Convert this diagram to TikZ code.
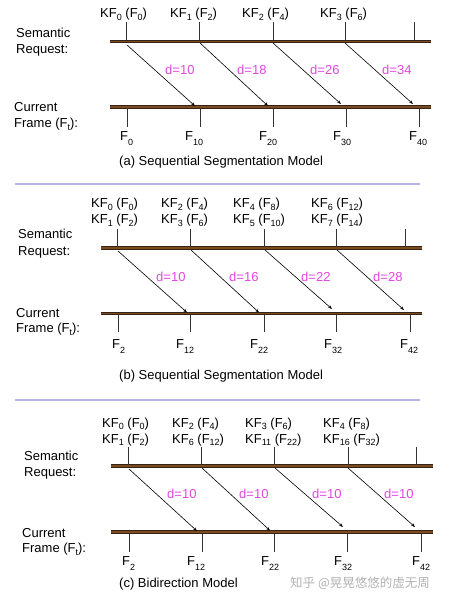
\documentclass[tikz,border=0pt]{standalone}
\usepackage{fontspec}
\setmainfont{Liberation Sans}
\newfontfamily\cjkfont{Noto Sans CJK SC}
\usetikzlibrary{arrows.meta}
\definecolor{bar}{RGB}{90,60,38}
\definecolor{barEdge}{RGB}{55,36,22}
\definecolor{dmag}{RGB}{226,70,226}
\definecolor{sep}{RGB}{182,180,228}
\newcommand\subx[1]{\raisebox{-2.6pt}{\fontsize{9}{9}\selectfont #1}}
\newcommand\subl[1]{\raisebox{-5.5pt}{\fontsize{9}{9}\selectfont #1}}
\tikzset{
  txt/.style={anchor=base west,inner sep=0pt,font=\fontsize{13}{16}\selectfont},
  kf/.style={txt,align=left},
  dlab/.style={txt,text=dmag},
  timeline/.style={draw=barEdge,line width=3.2pt},
  timeinner/.style={draw=bar!80!orange,line width=1.4pt},
  tick/.style={draw=black!80,line width=0.7pt},
  req/.style={draw=black,line width=0.6pt,-{Stealth[length=4pt,width=3pt]}},
  seprule/.style={draw=sep,line width=2pt},
}
\begin{document}
\begin{tikzpicture}[x=1pt,y=-1pt]
\useasboundingbox (0,0) rectangle (448,601);
% ================= panel (a)
\coordinate (aTL) at (110,41.7); \coordinate (aTR) at (431,41.7);
\coordinate (aBL) at (110,107); \coordinate (aBR) at (431,107);
\draw[timeline] (aTL) -- (aTR); \draw[timeinner] (aTL) -- (aTR);
\draw[timeline] (aBL) -- (aBR); \draw[timeinner] (aBL) -- (aBR);
\foreach \i/\x in {1/126,2/199,3/273,4/345,5/414}{
  \coordinate (aT\i) at (\x,40.2); \coordinate (aTt\i) at (\x,22);
  \draw[tick] (aTt\i) -- (aT\i);}
\foreach \i/\x in {1/127,2/200,3/273,4/346,5/419}{
  \coordinate (aB\i) at (\x,108.5); \coordinate (aBb\i) at (\x,127);
  \draw[tick] (aB\i) -- (aBb\i);}
\coordinate (aS1) at (127,45); \coordinate (aE1) at (195,106);
\coordinate (aS2) at (200,43); \coordinate (aE2) at (268,106);
\coordinate (aS3) at (273,43); \coordinate (aE3) at (341,104);
\coordinate (aS4) at (345,43); \coordinate (aE4) at (413,104);
\foreach \i in {1,...,4}{\draw[req] (aS\i) -- (aE\i);}
\node[kf] (akf1) at (100,18) {KF\subx{0} (F\subx{0})};
\node[kf] (akf2) at (170,18) {KF\subx{1} (F\subx{2})};
\node[kf] (akf3) at (242,18) {KF\subx{2} (F\subx{4})};
\node[kf] (akf4) at (320,18) {KF\subx{3} (F\subx{6})};
\node[dlab] (ad1) at (165,75) {d=10};
\node[dlab] (ad2) at (237,75) {d=18};
\node[dlab] (ad3) at (310,75) {d=26};
\node[dlab] (ad4) at (382,75) {d=34};
\node[txt] (af1) at (120,140.5) {F\subl{0}};
\node[txt] (af2) at (185,140.5) {F\subl{10}};
\node[txt] (af3) at (259,140.5) {F\subl{20}};
\node[txt] (af4) at (333,140.5) {F\subl{30}};
\node[txt] (af5) at (409,140.5) {F\subl{40}};
\node[txt] (asem) at (16,38) {Semantic};
\node[txt] (areq) at (16,53.5) {Request:};
\node[txt] (acur) at (14,112) {Current};
\node[txt] (afra) at (14,127.5) {Frame (F\subx{t}):};
\node[txt] (acap) at (119,166) {(a) Sequential Segmentation Model};
\coordinate (sep1L) at (15,184.5); \coordinate (sep1R) at (420,184.5);
\draw[seprule] (sep1L) -- (sep1R);
% ================= panel (b)
\coordinate (bTL) at (101,248); \coordinate (bTR) at (422,248);
\coordinate (bBL) at (101,313.5); \coordinate (bBR) at (422,313.5);
\draw[timeline] (bTL) -- (bTR); \draw[timeinner] (bTL) -- (bTR);
\draw[timeline] (bBL) -- (bBR); \draw[timeinner] (bBL) -- (bBR);
\foreach \i/\x in {1/117,2/190,3/264,4/336,5/405}{
  \coordinate (bT\i) at (\x,246.5); \coordinate (bTt\i) at (\x,229);
  \draw[tick] (bTt\i) -- (bT\i);}
\foreach \i/\x in {1/118,2/190,3/264,4/336,5/410}{
  \coordinate (bB\i) at (\x,315); \coordinate (bBb\i) at (\x,332);
  \draw[tick] (bB\i) -- (bBb\i);}
\coordinate (bS1) at (118,251); \coordinate (bE1) at (187,312.5);
\coordinate (bS2) at (191,250); \coordinate (bE2) at (259,312.5);
\coordinate (bS3) at (265,250); \coordinate (bE3) at (332,309);
\coordinate (bS4) at (337,250); \coordinate (bE4) at (404,310);
\foreach \i in {1,...,4}{\draw[req] (bS\i) -- (bE\i);}
\node[kf] (bkf1) at (91,223.5) {KF\subx{0} (F\subx{0})\\KF\subx{1} (F\subx{2})};
\node[kf] (bkf2) at (161,223.5) {KF\subx{2} (F\subx{4})\\KF\subx{3} (F\subx{6})};
\node[kf] (bkf3) at (233,223.5) {KF\subx{4} (F\subx{8})\\KF\subx{5} (F\subx{10})};
\node[kf] (bkf4) at (311,223.5) {KF\subx{6} (F\subx{12})\\KF\subx{7} (F\subx{14})};
\node[dlab] (bd1) at (156,281) {d=10};
\node[dlab] (bd2) at (229,281) {d=16};
\node[dlab] (bd3) at (301,281) {d=22};
\node[dlab] (bd4) at (373,281) {d=28};
\node[txt] (bf1) at (112,348) {F\subl{2}};
\node[txt] (bf2) at (176,348) {F\subl{12}};
\node[txt] (bf3) at (250,348) {F\subl{22}};
\node[txt] (bf4) at (324,348) {F\subl{32}};
\node[txt] (bf5) at (400,348) {F\subl{42}};
\node[txt] (bsem) at (18,239) {Semantic};
\node[txt] (breq) at (18,255.5) {Request:};
\node[txt] (bcur) at (16,317) {Current};
\node[txt] (bfra) at (16,332.5) {Frame (F\subx{t}):};
\node[txt] (bcap) at (119,379) {(b) Sequential Segmentation Model};
\coordinate (sep2L) at (15,400); \coordinate (sep2R) at (420,400);
\draw[seprule] (sep2L) -- (sep2R);
% ================= panel (c)
\coordinate (cTL) at (111,466); \coordinate (cTR) at (433,466);
\coordinate (cBL) at (111,532); \coordinate (cBR) at (433,532);
\draw[timeline] (cTL) -- (cTR); \draw[timeinner] (cTL) -- (cTR);
\draw[timeline] (cBL) -- (cBR); \draw[timeinner] (cBL) -- (cBR);
\foreach \i/\x in {1/128,2/201,3/274,4/348,5/416}{
  \coordinate (cT\i) at (\x,464.5); \coordinate (cTt\i) at (\x,447);
  \draw[tick] (cTt\i) -- (cT\i);}
\foreach \i/\x in {1/129,2/202,3/274,4/347,5/421}{
  \coordinate (cB\i) at (\x,533.5); \coordinate (cBb\i) at (\x,552);
  \draw[tick] (cB\i) -- (cBb\i);}
\coordinate (cS1) at (129,469); \coordinate (cE1) at (197,531);
\coordinate (cS2) at (202,468); \coordinate (cE2) at (270,530.5);
\coordinate (cS3) at (275,468); \coordinate (cE3) at (343,527);
\coordinate (cS4) at (348,468); \coordinate (cE4) at (415,527);
\foreach \i in {1,...,4}{\draw[req] (cS\i) -- (cE\i);}
\node[kf] (ckf1) at (102,443) {KF\subx{0} (F\subx{0})\\KF\subx{1} (F\subx{2})};
\node[kf] (ckf2) at (172,443) {KF\subx{2} (F\subx{4})\\KF\subx{6} (F\subx{12})};
\node[kf] (ckf3) at (245,443) {KF\subx{3} (F\subx{6})\\KF\subx{11} (F\subx{22})};
\node[kf] (ckf4) at (323,443) {KF\subx{4} (F\subx{8})\\KF\subx{16} (F\subx{32})};
\node[dlab] (cd1) at (167,498) {d=10};
\node[dlab] (cd2) at (239,498) {d=10};
\node[dlab] (cd3) at (312,498) {d=10};
\node[dlab] (cd4) at (384,498) {d=10};
\node[txt] (cf1) at (122,565) {F\subl{2}};
\node[txt] (cf2) at (187,565) {F\subl{12}};
\node[txt] (cf3) at (261,565) {F\subl{22}};
\node[txt] (cf4) at (334,565) {F\subl{32}};
\node[txt] (cf5) at (412,565) {F\subl{42}};
\node[txt] (csem) at (24,460) {Semantic};
\node[txt] (creq) at (24,476) {Request:};
\node[txt] (ccur) at (22,537) {Current};
\node[txt] (cfra) at (22,552.5) {Frame (F\subx{t}):};
\node[txt] (ccap) at (119,587) {(c) Bidirection Model};
\node[txt,text=black!30,font=\cjkfont\fontsize{12.5}{14}\selectfont] (wm) at (290,587) {知乎 @晃晃悠悠的虚无周};
\end{tikzpicture}
\end{document}
